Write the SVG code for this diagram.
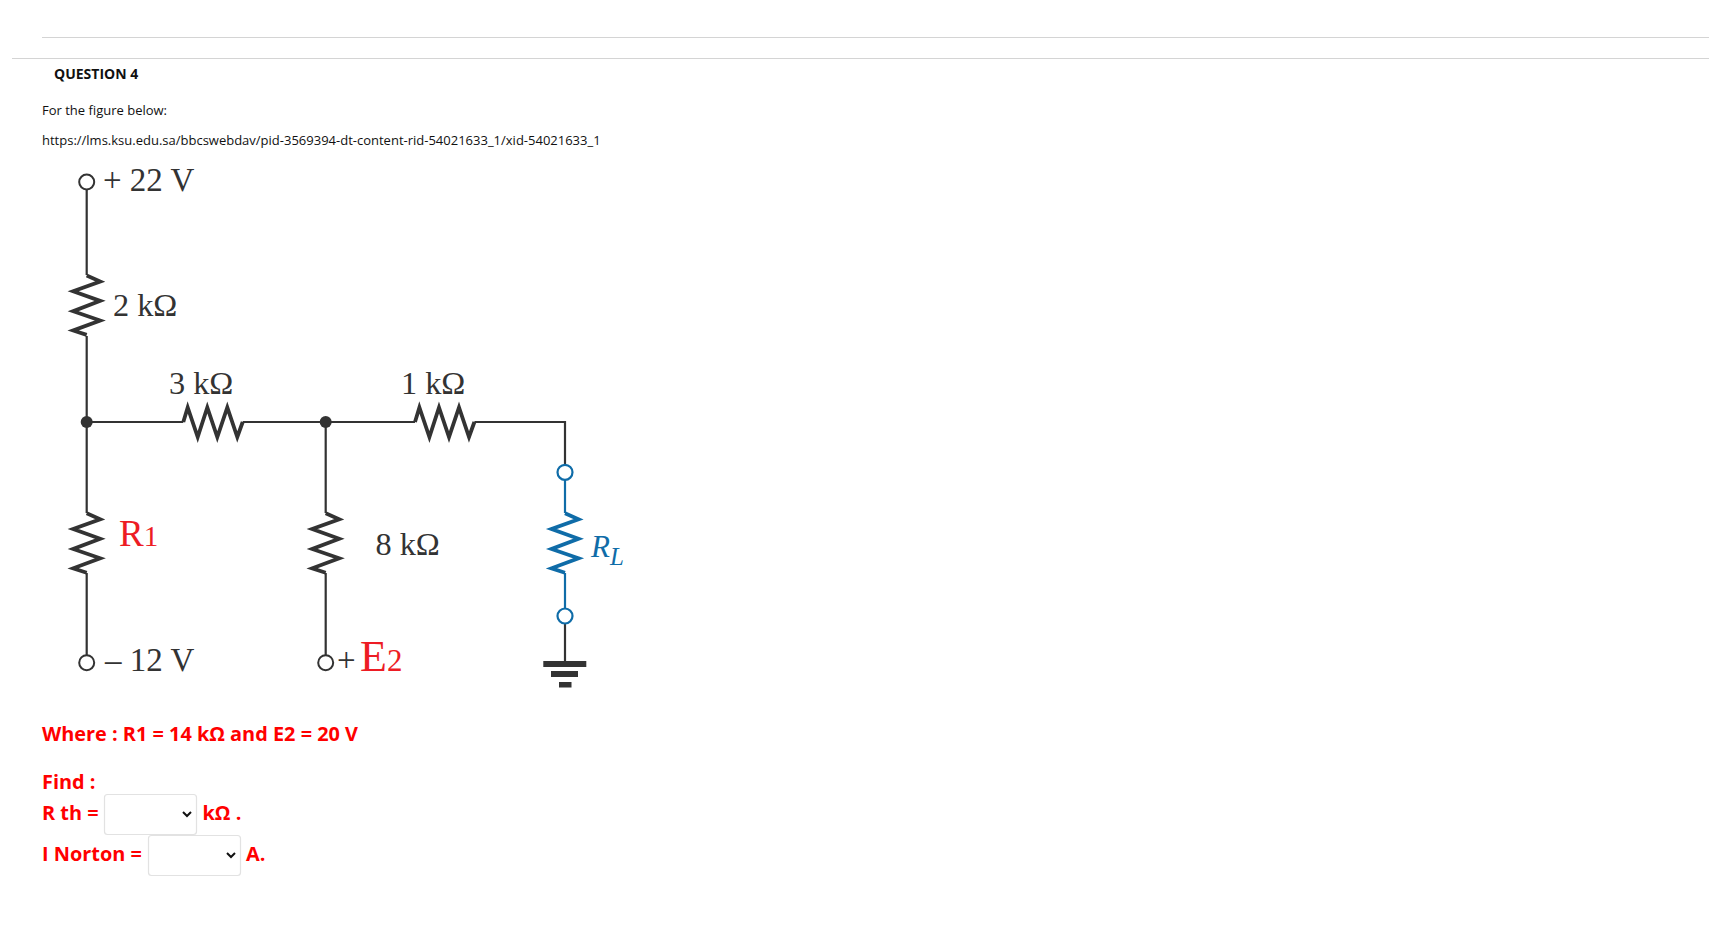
<svg xmlns="http://www.w3.org/2000/svg" width="1709" height="928" viewBox="0 0 1709 928">
<style>
.rule{stroke:#d4d4d4;stroke-width:1.2;fill:none}
.wire{stroke:#333;stroke-width:2.2;fill:none}
.bwire{stroke:#0f6ca8;stroke-width:2.2;fill:none}
.zig{stroke:#333;stroke-width:3.8;fill:none;stroke-linejoin:miter}
.bzig{stroke:#0f6ca8;stroke-width:3.8;fill:none}
.term{fill:#fff;stroke:#333;stroke-width:2}
.bterm{fill:#fff;stroke:#0f6ca8;stroke-width:2.2}
.dot{fill:#333}
.ser{font-family:"Liberation Serif",serif;font-size:33px;fill:#333}
.ohm{font-size:32.300px}
.red{fill:#ed1c24}
.sans{font-family:"Open Sans",sans-serif;fill:#111}
.ans{font-family:"Open Sans",sans-serif;font-weight:700;font-size:19.900px;fill:#f00}
.sel{fill:#fff;stroke:#e2e2e2;stroke-width:1.2}
.chev{fill:none;stroke:#111;stroke-width:2}
</style>
<defs>
<polyline id="vr" points="0,0 13.500,6 -13.500,15.7 13.500,25.4 -13.500,35.7 13.500,45 -13.500,55 0,59.4"/>
<polyline id="hr" points="0,0 4.4,-14.500 14.400,15 24,-14.500 34,15 44,-14.500 54,15 59.4,0"/>
</defs>
<g id="header">
<line class="rule" x1="42" y1="37.5" x2="1709" y2="37.5"/>
<line class="rule" x1="12" y1="58.5" x2="1709" y2="58.5"/>
<text class="sans" x="54" y="78.5" font-size="14" font-weight="700">QUESTION 4</text>
<text class="sans" x="42" y="115" font-size="13">For the figure below:</text>
<text class="sans" x="42" y="145" font-size="13">https://lms.ksu.edu.sa/bbcswebdav/pid-3569394-dt-content-rid-54021633_1/xid-54021633_1</text>
</g>
<g id="connectors">
<path class="wire" d="M86.7 189V275M86.7 336V513M86.7 573V655M86.7 422H183.3M242.7 422H415M474.4 422H565V465M325.7 422V513M325.7 573V655M565 623V662"/>
<path class="bwire" d="M565 480V513M565 573V608"/>
</g>
<g id="node-v22"><circle class="term" cx="86.7" cy="182" r="7.500"/><text class="ser" x="103" y="190.500">+ 22 V</text></g>
<g id="node-r2k"><use href="#vr" class="zig" x="86.7" y="275.500"/><text class="ser ohm" x="113" y="315.500">2 kΩ</text></g>
<g id="node-j1"><circle class="dot" cx="86.7" cy="422" r="6"/></g>
<g id="node-r3k"><use href="#hr" class="zig" x="183.300" y="422"/><text class="ser ohm" x="169" y="393.500">3 kΩ</text></g>
<g id="node-j2"><circle class="dot" cx="325.7" cy="422" r="6"/></g>
<g id="node-r1k"><use href="#hr" class="zig" x="415" y="422"/><text class="ser ohm" x="401" y="394">1 kΩ</text></g>
<g id="node-r1"><use href="#vr" class="zig" x="86.7" y="513.300"/><text class="ser red" x="119" y="545.700" style="font-size:37px">R<tspan style="font-size:29px">1</tspan></text></g>
<g id="node-r8k"><use href="#vr" class="zig" x="325.7" y="513.300"/><text class="ser ohm" x="375.500" y="555">8 kΩ</text></g>
<g id="node-rl"><circle class="bterm" cx="565" cy="472.300" r="7.500"/><use href="#vr" class="bzig" x="565" y="513.300"/><circle class="bterm" cx="565" cy="616" r="7.500"/>
<text x="591" y="557" font-family="Liberation Serif, serif" font-style="italic" font-size="31" fill="#0f6ca8">R</text><text x="610" y="565" font-family="Liberation Serif, serif" font-style="italic" font-size="25" fill="#0f6ca8">L</text></g>
<g id="node-v12"><circle class="term" cx="86.7" cy="662.700" r="7.500"/><text class="ser" x="105" y="670.500">– 12 V</text></g>
<g id="node-e2"><circle class="term" cx="325.7" cy="662.700" r="7.500"/><text class="ser" x="337" y="671">+</text><text class="ser red" x="360" y="671" style="font-size:44px">E<tspan style="font-size:31px">2</tspan></text></g>
<g id="node-ground"><rect x="543.300" y="661" width="43" height="6" fill="#333"/><rect x="551" y="671" width="27" height="6" fill="#333"/><rect x="559" y="682" width="12.500" height="5.500" fill="#333"/></g>
<g id="answers">
<text class="ans" x="42" y="740.500">Where : R1 = 14 kΩ and E2 = 20 V</text>
<text class="ans" x="42" y="788.500">Find :</text>
<text class="ans" x="42" y="819.500">R th =</text>
<rect class="sel" x="104.500" y="794.500" width="92" height="40" rx="3"/>
<path class="chev" d="M183 812l4 4 4-4"/>
<text class="ans" x="202.500" y="819.500">kΩ .</text>
<text class="ans" x="42" y="860.500">I Norton =</text>
<rect class="sel" x="148.500" y="835.500" width="92" height="40" rx="3"/>
<path class="chev" d="M227 853l4 4 4-4"/>
<text class="ans" x="246" y="860.500">A.</text>
</g>
</svg>
